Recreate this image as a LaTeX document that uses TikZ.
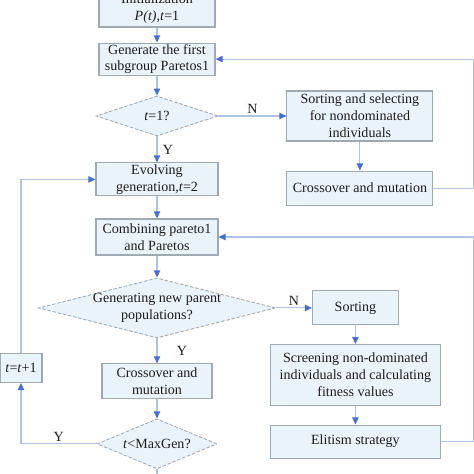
\documentclass[tikz,border=0pt]{standalone}
\usepackage{fontspec}
\setmainfont{Liberation Serif}
\usetikzlibrary{arrows.meta,positioning,shapes.geometric}
\definecolor{boxfill}{RGB}{234,242,250}
\definecolor{boxdraw}{RGB}{160,170,180}
\definecolor{linec}{RGB}{175,195,228}
\definecolor{tipc}{RGB}{70,110,215}
\definecolor{txtc}{RGB}{30,30,30}

\begin{document}
\begin{tikzpicture}[
  x=0.02cm, y=-0.02cm,
  font=\fontsize{8}{9.6}\selectfont, text=txtc,
  box/.style={draw=boxdraw, line width=0.6pt, fill=boxfill, align=center, inner xsep=2pt, inner ysep=0.5pt},
  dia/.style={diamond, draw=boxdraw, line width=0.5pt, dash pattern=on 2pt off 1pt, fill=boxfill, inner sep=0pt},
  link/.style={-{Triangle[length=4pt,width=3.6pt,color=tipc]}, linec, line width=0.6pt},
  lab/.style={inner sep=1pt, text=txtc}]
\useasboundingbox (0,0) rectangle (474,474);
\clip (0,0) rectangle (474,474);
% main column
\node[box, minimum width=2.32cm, minimum height=0.72cm] (init) at (157,9) {Initialization\\\textit{P(t)},\textit{t}=1};
\node[box, minimum width=2.32cm, minimum height=0.64cm, below=0.3cm of init] (gen) {Generate the first\\subgroup Paretos1};
\node[dia, minimum width=2.44cm, minimum height=0.8cm, below=0.4cm of gen, label={center:\textit{t}=1?}] (d1) {};
\node[box, minimum width=2.44cm, minimum height=0.66cm, below=0.52cm of d1] (evolve) {Evolving\\generation,\textit{t}=2};
\node[box, minimum width=2.44cm, minimum height=0.72cm, below=0.44cm of evolve] (comb) {Combining pareto1\\and Paretos};
\node[dia, minimum width=4.74cm, minimum height=1.2cm, below=0.44cm of comb, label={[align=center]center:Generating new parent\\populations?}] (d2) {};
\node[box, minimum width=2.2cm, minimum height=0.7cm, below=0.5cm of d2] (cross2) {Crossover and\\mutation};
\node[dia, minimum width=2.4cm, minimum height=1.0cm, below=0.38cm of cross2, label={center:\textit{t}<MaxGen?}] (d3) {};
\node[box, minimum width=0.84cm, minimum height=0.58cm] (tt) at (21,368) {\textit{t}=\textit{t}+1};
% right column, upper
\node[box, minimum width=2.92cm, minimum height=1.0cm, right=1.36cm of d1] (sortsel) {Sorting and selecting\\for nondominated\\individuals};
\node[box, minimum width=2.92cm, minimum height=0.68cm, below=0.58cm of sortsel] (cross1) {Crossover and mutation};
% right column, lower
\node[box, minimum width=1.72cm, minimum height=0.68cm, right=0.72cm of d2] (sort) {Sorting};
\node[box, minimum width=3.4cm, minimum height=1.22cm, below=0.37cm of sort] (screen) {Screening non-dominated\\individuals and calculating\\fitness values};
\node[box, minimum width=3.4cm, minimum height=0.66cm, below=0.37cm of screen] (elit) {Elitism strategy};
% connectors
\draw[link] (init) -- (gen);
\draw[link] (gen) -- (d1);
\draw[link] (d1) -- node[lab, above] {N} (sortsel);
\draw[link] (sortsel) -- (cross1);
\draw[link] (cross1.east) -- ++(40,0) |- (gen.east);
\draw[link] (d1) -- node[lab, right=2pt] {Y} (evolve);
\draw[link] (evolve) -- (comb);
\draw[link] (comb) -- (d2);
\draw[link] (d2) -- node[lab, above] {N} (sort);
\draw[link] (sort) -- (screen);
\draw[link] (screen) -- (elit);
\draw[link] (elit.east) -- ++(33,0) |- (comb.east);
\draw[link] (d2) -- node[lab, right=0.35cm] {Y} (cross2);
\draw[link] (cross2) -- (d3);
\draw[link] (d3.west) -| node[lab, pos=0.25, above] {Y} (tt.south);
\draw[link] (tt.north) |- (evolve.west);
\draw[linec, line width=0.6pt] (d3.south) -- node[lab, pos=0.9, left=6pt] {N} ++(0,20);
\end{tikzpicture}
\end{document}
